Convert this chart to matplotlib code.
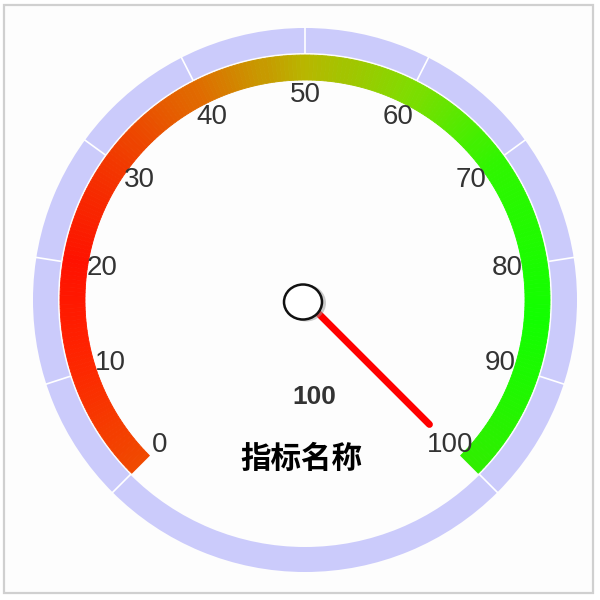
import numpy as np
import matplotlib
matplotlib.use("Agg")
import matplotlib.pyplot as plt
import matplotlib.patches as mpatches
from matplotlib.colors import LinearSegmentedColormap

# gauge data
tick_values = [0, 10, 20, 30, 40, 50, 60, 70, 80, 90, 100]
tick_labels = [str(v) for v in tick_values]
value = 100
title = "指标名称"
vmin, vmax = 0, 100

# colour stops of the band (fraction of range, colour)
band_stops = [(0.0, "#f04a00"), (0.12, "#ff2200"), (0.2, "#ff1200"),
              (0.3, "#f23800"), (0.4, "#e06c00"), (0.5, "#b8b600"),
              (0.6, "#80dc00"), (0.7, "#30f600"), (0.85, "#12ff00"),
              (1.0, "#30ee00")]
cmap = LinearSegmentedColormap.from_list("band", band_stops)

# layout (pixels)
CX, CY = 305, 300
R_OUT = 272
R_RING = 25
R_BAND_OUT = 245
R_BAND = 25
R_LABEL = 205
R_NEEDLE = 176


def angle(v):
    # 0 at 225 deg, 100 at -45 deg
    return 225.0 - 270.0 * (v - vmin) / (vmax - vmin)


fig = plt.figure(figsize=(6, 6), dpi=100)
fig.patch.set_facecolor("white")
ax = fig.add_axes([0, 0, 1, 1])
ax.set_xlim(-CX, 600 - CX)
ax.set_ylim(-(600 - CY), CY)
ax.set_aspect("equal")
ax.axis("off")

# frame
ax.add_patch(mpatches.Rectangle((4 - CX, CY - 593), 589, 588, fill=True,
                                facecolor="#fdfdfd", edgecolor="#d0d0d0", lw=1.6))

# outer lavender ring
ax.add_patch(mpatches.Wedge((0, 0), R_OUT, 0, 360, width=R_RING,
                            facecolor="#cbcbfb", edgecolor="none"))
for v in tick_values:
    t = np.radians(angle(v))
    r0, r1 = R_OUT - R_RING - 1, R_OUT + 1
    ax.plot([r0 * np.cos(t), r1 * np.cos(t)], [r0 * np.sin(t), r1 * np.sin(t)],
            color="white", lw=1.2, solid_capstyle="butt")

# gradient band
nseg = 270
vals = np.linspace(vmin, vmax, nseg + 1)
for a, b in zip(vals[:-1], vals[1:]):
    c = cmap(((a + b) / 2 - vmin) / (vmax - vmin))
    ax.add_patch(mpatches.Wedge((0, 0), R_BAND_OUT, angle(b), angle(a),
                                width=R_BAND, facecolor=c, edgecolor=c, lw=0.6))

# tick labels
for v, lab in zip(tick_values, tick_labels):
    t = np.radians(angle(v))
    ax.text(R_LABEL * np.cos(t), R_LABEL * np.sin(t), lab, ha="center",
            va="center", fontsize=20, color="#333333", family="Liberation Sans")

# needle
t = np.radians(angle(value))
ax.plot([0, R_NEEDLE * np.cos(t)], [0, R_NEEDLE * np.sin(t)], color="#ff0000",
        lw=5, solid_capstyle="round", zorder=5)

# pivot with soft shadow
ax.add_patch(mpatches.Ellipse((1, -3), 40, 37, facecolor="#999999",
                              edgecolor="none", alpha=0.5, zorder=6))
ax.add_patch(mpatches.Ellipse((-2, -2), 38, 35, facecolor="white",
                              edgecolor="#111111", lw=1.8, zorder=7))

# value and title
ax.text(9, -97, str(value), ha="center", va="center", fontsize=19,
        fontweight="bold", color="#333333", family="Liberation Sans")
ax.text(-4, -159, title, ha="center", va="center", fontsize=22,
        fontweight="bold", color="black",
        family=["Noto Sans CJK SC", "DejaVu Sans"])

fig.savefig("out.png", dpi=100)
